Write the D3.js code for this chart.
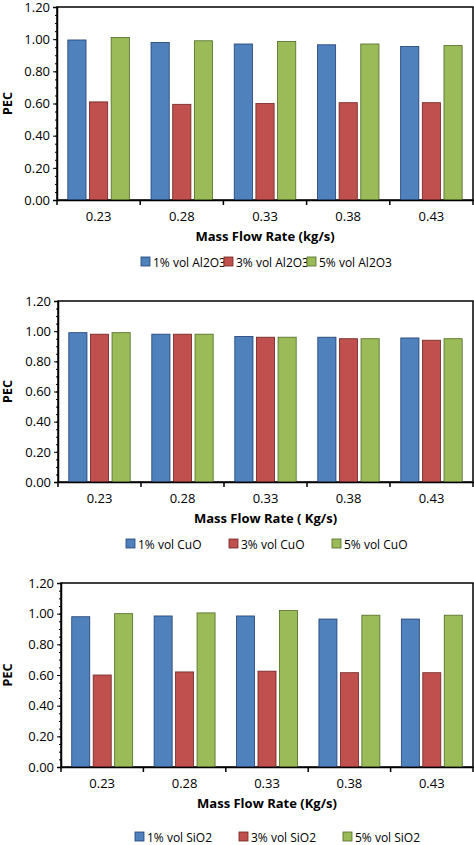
<!DOCTYPE html>
<html><head><meta charset="utf-8">
<script src="https://cdn.jsdelivr.net/npm/d3@7"></script>
<style>body{margin:0;background:#fff;font-family:"Open Sans",sans-serif;}</style>
</head><body>
<div id="chart"></div>
<script>
var rates = ["0.23","0.28","0.33","0.38","0.43"];
var yTicks = [0, 0.2, 0.4, 0.6, 0.8, 1.0, 1.2];
var al1 = [0.995, 0.98, 0.97, 0.965, 0.955];
var al3 = [0.61, 0.595, 0.60, 0.605, 0.605];
var al5 = [1.01, 0.99, 0.985, 0.97, 0.96];
var cu1 = [0.99, 0.98, 0.965, 0.96, 0.955];
var cu3 = [0.98, 0.98, 0.96, 0.95, 0.94];
var cu5 = [0.99, 0.98, 0.96, 0.95, 0.95];
var si1 = [0.98, 0.985, 0.985, 0.965, 0.965];
var si3 = [0.60, 0.62, 0.625, 0.615, 0.615];
var si5 = [1.0, 1.005, 1.02, 0.99, 0.99];

var colors = ["#4f81bd", "#c0504d", "#9bbb59"];
var strokes = ["#1f3f73", "#6e2422", "#4f6a24"];

var panels = [
  {top: 7, bottom: 200, left: 57, xt: "Mass Flow Rate (kg/s)", names: ["1% vol Al2O3","3% vol Al2O3","5% vol Al2O3"], series: [al1, al3, al5], legY: 267, legSp: [0, 83, 166], legX: 141},
  {top: 301, bottom: 482, left: 58, xt: "Mass Flow Rate ( Kg/s)", names: ["1% vol CuO","3% vol CuO","5% vol CuO"], series: [cu1, cu3, cu5], legY: 549, legSp: [0, 103, 206], legX: 126},
  {top: 583, bottom: 767, left: 61, xt: "Mass Flow Rate (Kg/s)", names: ["1% vol SiO2","3% vol SiO2","5% vol SiO2"], series: [si1, si3, si5], legY: 842, legSp: [0, 104, 208], legX: 135}
];

var svg = d3.select("#chart").append("svg").attr("width", 474).attr("height", 845);

panels.forEach(function(p){
  var right = 473;
  var x = d3.scaleBand().domain(rates).range([p.left, right]);
  var inner = d3.scaleBand().domain([0,1,2]).range([0, x.bandwidth()]).paddingInner(0.16).paddingOuter(0.5);
  var y = d3.scaleLinear().domain([0, 1.2]).range([p.bottom, p.top]);
  var g = svg.append("g");

  g.append("rect").attr("x", p.left).attr("y", p.top).attr("width", right - p.left).attr("height", p.bottom - p.top)
    .attr("fill", "none").attr("stroke", "#000").attr("stroke-width", 1.5);

  p.series.forEach(function(vals, s){
    g.selectAll(null).data(vals).enter().append("rect")
      .attr("x", function(d,i){ return x(rates[i]) + inner(s); })
      .attr("width", inner.bandwidth())
      .attr("y", function(d){ return y(d); })
      .attr("height", function(d){ return y(0) - y(d); })
      .attr("fill", colors[s]).attr("stroke", strokes[s]).attr("stroke-width", 0.8);
  });

  var ya = g.append("g").attr("transform", "translate(" + p.left + ",0)")
    .call(d3.axisLeft(y).tickValues(yTicks).tickFormat(d3.format(".2f")).tickSize(4));
  ya.select(".domain").attr("stroke-width", 1.5);
  ya.selectAll("text").attr("font-size", 13).attr("font-family", "Open Sans");
  g.append("g").attr("transform", "translate(" + p.left + ",0)")
    .call(d3.axisLeft(y).ticks(30).tickFormat("").tickSize(2)).select(".domain").remove();

  var xa = g.append("g").attr("transform", "translate(0," + p.bottom + ")")
    .call(d3.axisBottom(x).tickSize(0).tickPadding(12));
  xa.select(".domain").attr("stroke-width", 1.5);
  xa.selectAll("text").attr("font-size", 13).attr("font-family", "Open Sans");
  xa.selectAll(".sep").data(rates.concat(["end"])).enter().append("line")
    .attr("x1", function(d,i){ return p.left + i * x.step(); })
    .attr("x2", function(d,i){ return p.left + i * x.step(); })
    .attr("y1", 0).attr("y2", 5).attr("stroke", "#000").attr("stroke-width", 1.5);

  g.append("text").attr("x", (p.left + right) / 2).attr("y", p.bottom + 41).attr("text-anchor", "middle")
    .attr("font-size", 13).attr("font-weight", "bold").text(p.xt);
  g.append("text").attr("transform", "translate(12," + (p.top + p.bottom) / 2 + ") rotate(-90)")
    .attr("text-anchor", "middle").attr("font-size", 12.5).attr("font-weight", "bold").text("PEC");

  p.names.forEach(function(n, s){
    var lx = p.legX + p.legSp[s];
    g.append("rect").attr("x", lx).attr("y", p.legY - 10).attr("width", 9).attr("height", 9)
      .attr("fill", colors[s]).attr("stroke", strokes[s]).attr("stroke-width", 0.8);
    g.append("text").attr("x", lx + 12).attr("y", p.legY).attr("font-size", 12).text(n);
  });
});
</script>
</body></html>
